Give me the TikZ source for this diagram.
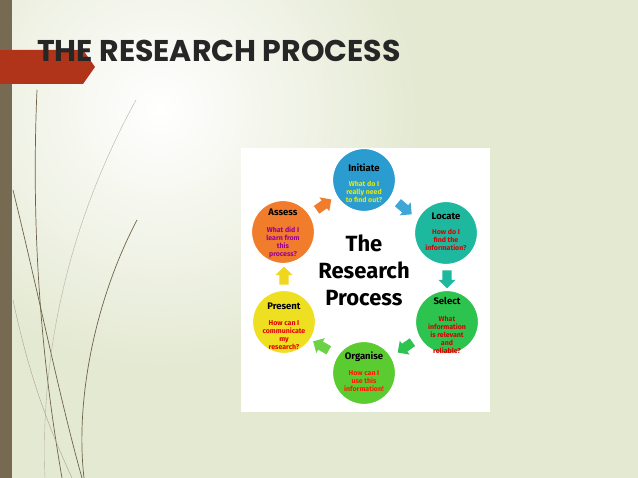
\documentclass[tikz,border=0pt]{standalone}
\usepackage{fontspec}
\setmainfont{Poppins}
\newfontfamily\comic{Fira Sans}
\usetikzlibrary{shapes.arrows}
\definecolor{bg}{HTML}{E4E9D2}
\definecolor{barc}{HTML}{766B52}
\definecolor{tabc}{HTML}{B0341A}
\definecolor{cI}{HTML}{2A9CD0}
\definecolor{cL}{HTML}{1EB89E}
\definecolor{cS}{HTML}{2CC44E}
\definecolor{cO}{HTML}{5ACC30}
\definecolor{cP}{HTML}{EEE020}
\definecolor{cA}{HTML}{F07C2C}
\definecolor{stem}{HTML}{6E6248}
\tikzset{
 bub/.style={circle,minimum size=63pt,inner sep=0pt,draw=white,line width=1.2pt},
 ttl/.style={font=\comic\bfseries\fontsize{9.5}{10}\selectfont,text=black},
 sub/.style={font=\comic\bfseries\fontsize{7}{8}\selectfont,align=center},
 blk/.style={single arrow,minimum height=18pt,minimum width=17pt,single arrow head extend=3pt,inner sep=3.5pt}
}
\begin{document}
\begin{tikzpicture}[x=1pt,y=-1pt]
\useasboundingbox (0,0) rectangle (638,478);
\fill[bg] (0,0) rectangle (638,478);
\shade[inner color=white,outer color=bg] (160,110) circle (260);
\fill[barc] (0,0) rectangle (12,478);
% stems
\draw[draw=stem,line width=0.7pt] (37,90) .. controls (30,250) and (45,380) .. (62,478);
\draw[draw=stem,line width=0.7pt] (13,190) .. controls (40,300) and (60,400) .. (82,478);
\draw[draw=stem!50,line width=0.4pt] (136,100) .. controls (70,220) and (40,350) .. (45,478);
\draw[draw=stem,line width=0.7pt] (137,220) .. controls (95,300) and (75,400) .. (84,478);
\draw[draw=stem!60,line width=0.4pt] (13,300) .. controls (30,380) and (50,430) .. (72,478);
% tab
\fill[tabc] (0,50) -- (83,50) -- (95,67) -- (83,84) -- (0,84) -- cycle;
\node[anchor=west,font=\bfseries\fontsize{30}{32}\selectfont,text=black!85,inner sep=0pt] (title) at (37,51) {THE RESEARCH PROCESS};
% image
\fill[white] (241,148) rectangle (490,412);
\node[font=\comic\bfseries\fontsize{22}{26}\selectfont,align=center] (ctr) at (364,270) {The\\[1pt]Research\\[1pt]Process};
\node[bub,fill=cI] (I) at (364,180) {};
\node[bub,fill=cL] (L) at (446,233) {};
\node[bub,fill=cS] (S) at (447,322) {};
\node[bub,fill=cO] (O) at (364,373) {};
\node[bub,fill=cP] (P) at (284,322) {};
\node[bub,fill=cA] (A) at (283,232) {};
\node[ttl] at (364,168) {Initiate};
\node[sub,text=yellow!90!green] at (364,192) {What do I\\really need\\to find out?};
\node[ttl] at (446,216) {Locate};
\node[sub,text=red!85!black] at (446,240) {How do I\\find the\\information?};
\node[ttl] at (447,301) {Select};
\node[sub,text=red!85!black] at (447,335) {What\\information\\is relevant\\and\\reliable?};
\node[ttl] at (364,357) {Organise};
\node[sub,text=red!80!orange] at (364,381) {How can I\\use this\\information!};
\node[ttl] at (284,306) {Present};
\node[sub,text=red!90!black] at (284,335) {How can I\\communicate\\my\\research?};
\node[ttl] at (283,212) {Assess};
\node[sub,text=violet!80!magenta] at (283,242) {What did I\\learn from\\this\\process?};
% arrows
\node[blk,fill=cI!90,rotate=-40] (a1) at (403,207) {};
\node[blk,fill=cL,rotate=-90] (a2) at (447,277) {};
\node[blk,fill=cS,rotate=-145] (a3) at (407,346) {};
\node[blk,fill=cO!90,rotate=150] (a4) at (323,347) {};
\node[blk,fill=cP!90!orange,rotate=90] (a5) at (284,278) {};
\node[blk,fill=cA,rotate=35] (a6) at (322,206) {};
\end{tikzpicture}
\end{document}
